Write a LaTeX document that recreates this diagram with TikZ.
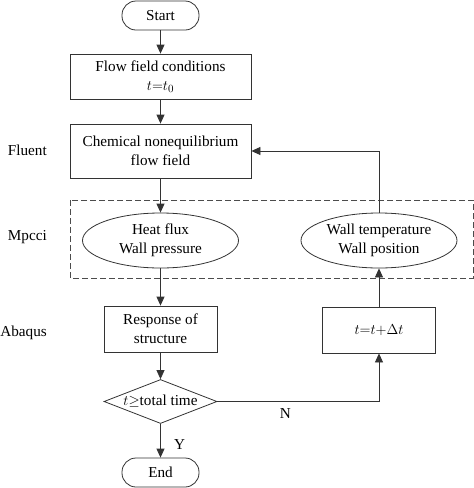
\documentclass[tikz,border=0pt]{standalone}
\usepackage{fontspec}
\setmainfont{Liberation Serif}
\usetikzlibrary{shapes.geometric,arrows.meta}
\begin{document}
\begin{tikzpicture}[x=1pt, y=-1pt,
	font=\fontsize{15.2}{19}\selectfont,
	linea/.style={draw=black!80, line width=0.8pt},
	flecha/.style={linea, -{Triangle[length=9pt,width=8pt]}},
	caja/.style={linea, rectangle, inner sep=0pt, align=center},
	terminal/.style={linea, rectangle, rounded corners=14pt, minimum width=77pt, minimum height=29pt, inner sep=0pt},
	elipse/.style={linea, ellipse, minimum width=156pt, minimum height=55pt, inner sep=0pt, align=center},
	rombo/.style={linea, diamond, aspect=2.57, minimum width=113pt, minimum height=44pt, inner sep=0pt},
	etiqueta/.style={anchor=east, inner sep=0pt}]
	\useasboundingbox (0,0) rectangle (474,488);
	
	% Region de acoplamiento (Mpcci)
	\draw[draw=black!70, line width=0.8pt, dash pattern=on 6pt off 3pt] (70,200) rectangle (473,278);
	
	% Columna principal
	\node[terminal] (inicio) at (160.5,15.5) {Start};
	\node[caja, minimum width=181pt, minimum height=45pt] (condiciones) at (160.5,76.5) {Flow field conditions\\$t{=}t_0$};
	\node[caja, minimum width=181pt, minimum height=54pt] (quimico) at (160.5,151) {Chemical nonequilibrium\\flow field};
	\node[elipse] (flujo) at (160.5,240.5) {Heat flux\\Wall pressure};
	\node[caja, minimum width=113pt, minimum height=46pt] (respuesta) at (160.5,329) {Response of\\structure};
	\node[rombo] (decision) at (160.5,401.5) {$t{\geq}$total time};
	\node[terminal] (fin) at (160.5,472.5) {End};
	
	% Columna derecha
	\node[elipse] (pared) at (379,240.5) {Wall temperature\\Wall position};
	\node[caja, minimum width=113pt, minimum height=46pt] (paso) at (379,330) {$t{=}t{+}\Delta t$};
	\coordinate (esquina) at (379,401.5);
	
	% Etiquetas de software
	\node[etiqueta] (fluent) at (47,150) {Fluent};
	\node[etiqueta] (mpcci) at (47,237) {Mpcci};
	\node[etiqueta] (abaqus) at (47,333) {Abaqus};
	
	% Flechas
	\draw[flecha] (inicio) -- (condiciones);
	\draw[flecha] (condiciones) -- (quimico);
	\draw[flecha] (quimico) -- (flujo);
	\draw[flecha] (flujo) -- (respuesta);
	\draw[flecha] (respuesta) -- (decision);
	\draw[flecha] (decision) -- (fin) node[pos=0.6, right=10pt] (si) {Y};
	\draw[flecha] (decision.east) -- (esquina) node[pos=0.42, below=3pt] (no) {N} -- (paso);
	\draw[flecha] (paso) -- (pared);
	\draw[flecha] (pared.north) |- (quimico.east);
\end{tikzpicture}
\end{document}
